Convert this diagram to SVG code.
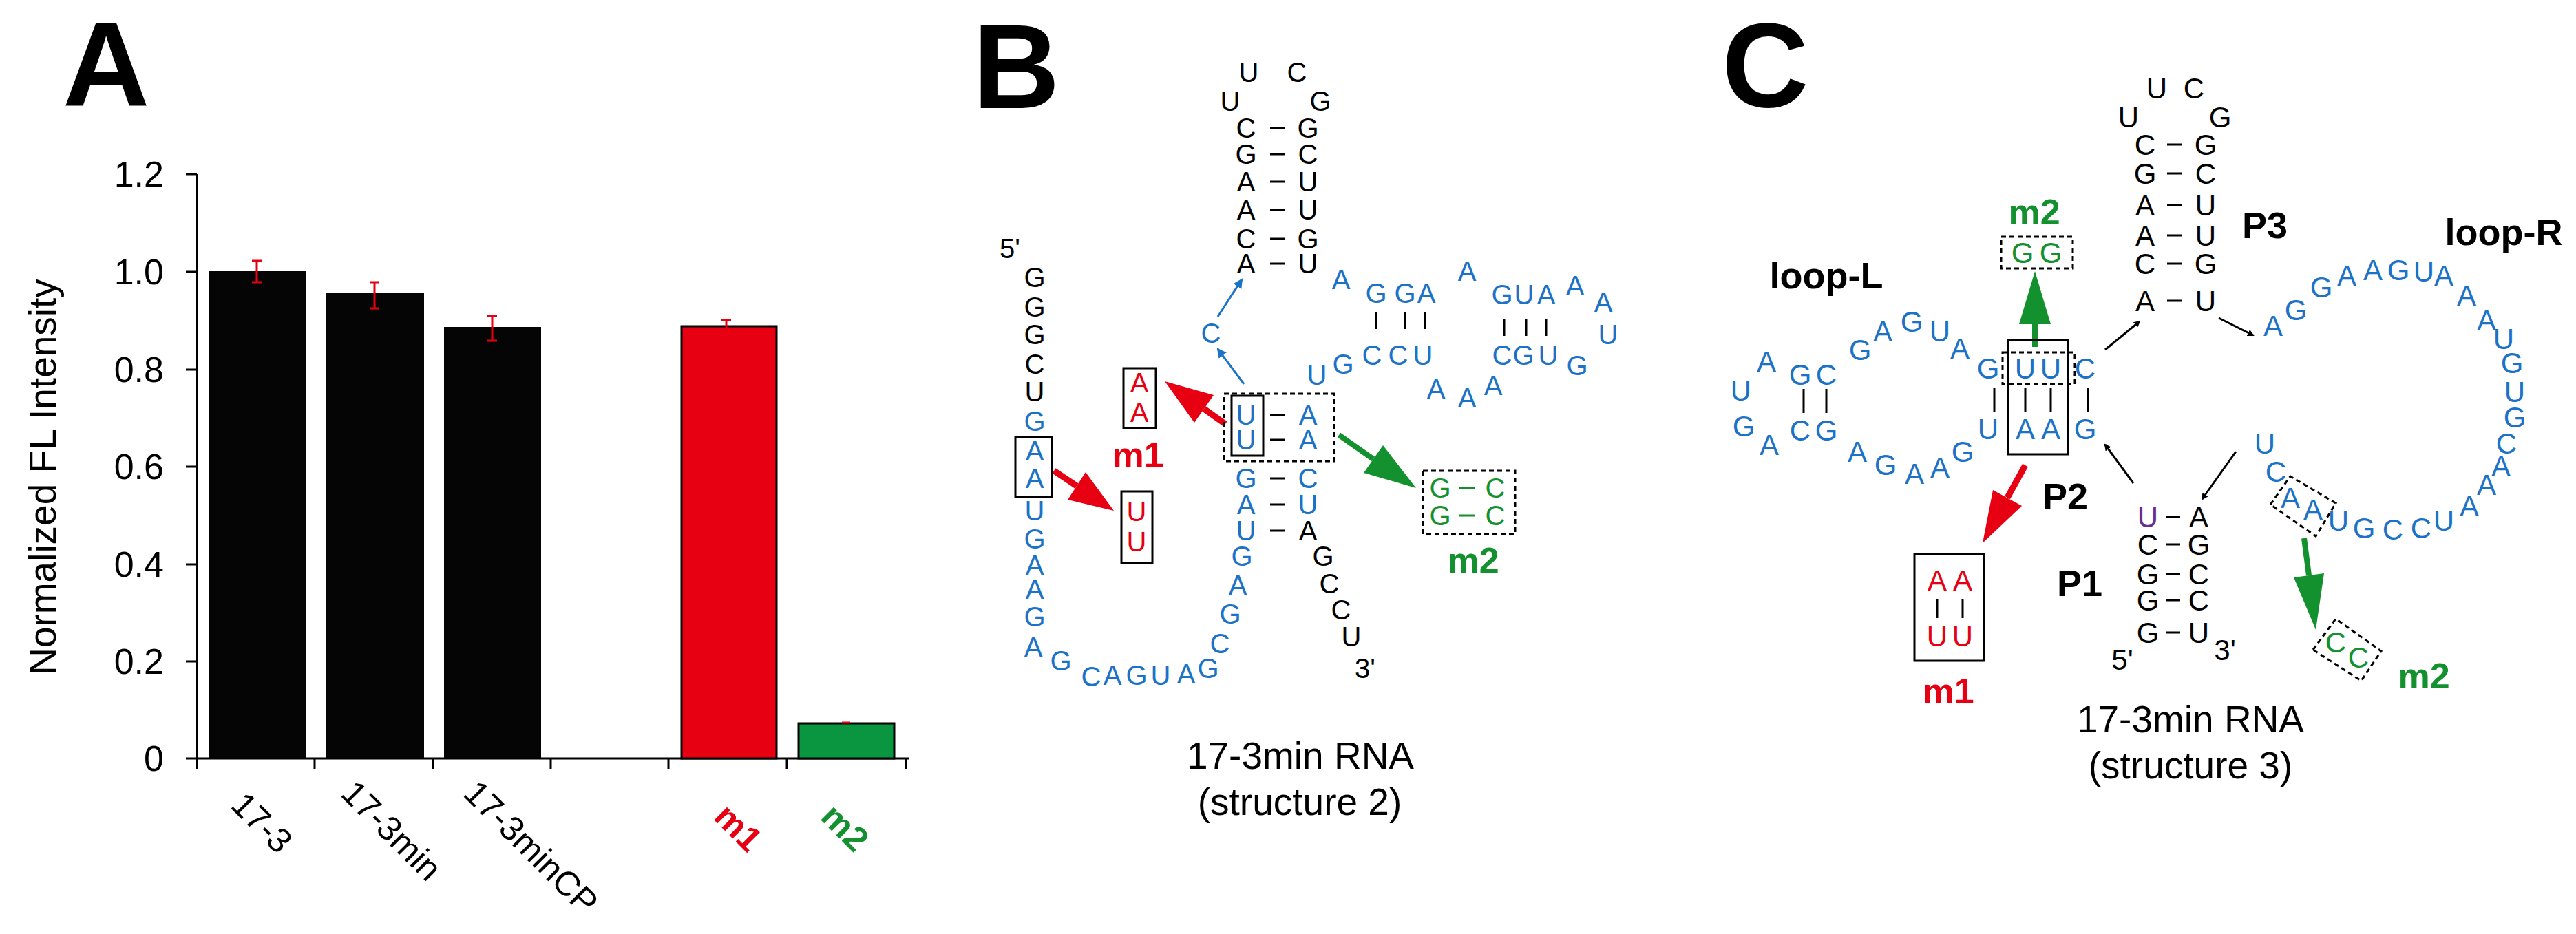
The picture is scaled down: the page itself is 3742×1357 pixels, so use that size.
<svg xmlns="http://www.w3.org/2000/svg" width="3742" height="1357" viewBox="0 0 3742 1357">
<style>
text{font-family:"Liberation Sans",Arial,sans-serif}
.t{text-anchor:middle;dominant-baseline:central}
.s40{font-size:40px}.s42{font-size:42px}.s52{font-size:52px}.s55{font-size:55px}
.bd{font-weight:bold}
.bl{fill:#1b72c6}.k{fill:#000}.rd{fill:#e60012}.gr{fill:#14912f}.pu{fill:#6a2c91}
.pl{font-size:175px;font-weight:bold}
.ln{stroke:#000;stroke-width:3;fill:none}
.box{stroke:#000;stroke-width:3;fill:none}
.dot{stroke:#000;stroke-width:3;fill:none;stroke-dasharray:7 5}
.ax{stroke:#000;stroke-width:3;fill:none}
.eb{stroke:#e60012;stroke-width:3;fill:none}
</style>
<defs>
<marker id="ak" markerWidth="10" markerHeight="10" refX="8" refY="5" orient="auto" markerUnits="userSpaceOnUse" viewBox="0 0 10 10"><path d="M0,0 L10,5 L0,10 z" fill="#000"/></marker>
<marker id="ab" markerWidth="14" markerHeight="14" refX="12" refY="7" orient="auto" markerUnits="userSpaceOnUse" viewBox="0 0 14 14"><path d="M0,0 L14,7 L0,14 z" fill="#1b72c6"/></marker>
</defs>

<g id="panel-labels">
<text class="pl" x="91" y="154">A</text>
<text class="pl" x="1413" y="157">B</text>
<text class="pl" x="2501" y="155">C</text>
</g>

<g id="chart">
<path class="ax" d="M286,253 V1102 H1320"/>
<path class="ax" d="M270,253 H286 M270,395 H286 M270,537 H286 M270,678 H286 M270,820 H286 M270,961 H286 M270,1102 H286"/>
<path class="ax" d="M286,1102 V1117 M457,1102 V1117 M629,1102 V1117 M800,1102 V1117 M971,1102 V1117 M1143,1102 V1117 M1316,1102 V1117"/>
<g class="s52" style="text-anchor:end;dominant-baseline:central">
<text x="238" y="253">1.2</text><text x="238" y="395">1.0</text><text x="238" y="537">0.8</text><text x="238" y="678">0.6</text><text x="238" y="820">0.4</text><text x="238" y="961">0.2</text><text x="238" y="1102">0</text>
</g>
<text class="t s55" transform="translate(62,693) rotate(-90)">Normalized FL Intensity</text>
<rect x="303" y="394" width="141" height="708" fill="#050505"/>
<rect x="473" y="426" width="143" height="676" fill="#050505"/>
<rect x="645" y="475" width="141" height="627" fill="#050505"/>
<rect x="990" y="474" width="138" height="628" fill="#e60012" stroke="#000" stroke-width="3"/>
<rect x="1160" y="1051" width="139" height="51" fill="#0a9640" stroke="#000" stroke-width="3"/>
<path class="eb" d="M373,379 V410 M366,379 H380 M366,410 H380 M544,410 V448 M537,410 H551 M537,448 H551 M715,459 V495 M708,459 H722 M708,495 H722 M1055,465 V476 M1048,465 H1062 M1223,1050 H1235"/>
<g style="font-size:50px">
<text transform="translate(333,1172) rotate(45)">17-3</text>
<text transform="translate(493,1155) rotate(45)">17-3min</text>
<text transform="translate(671,1155) rotate(45)">17-3minCP</text>
<text class="rd bd" transform="translate(1035,1189) rotate(45)">m1</text>
<text class="gr bd" transform="translate(1190,1189) rotate(45)">m2</text>
</g>
</g>

<g id="connectors">
<line x1="1807" y1="558" x2="1769" y2="507" stroke="#1b72c6" stroke-width="3" marker-end="url(#ab)"/>
<line x1="1769" y1="460" x2="1804" y2="406" stroke="#1b72c6" stroke-width="3" marker-end="url(#ab)"/>
<line x1="1780" y1="616" x2="1749" y2="594" stroke="#e60012" stroke-width="9"/>
<polygon points="1692,554 1763,574 1735,614" fill="#e60012"/>
<line x1="1531" y1="684" x2="1564" y2="706" stroke="#e60012" stroke-width="9"/>
<polygon points="1618,742 1551,726 1577,686" fill="#e60012"/>
<line x1="1945" y1="632" x2="1995" y2="667" stroke="#14912f" stroke-width="8"/>
<polygon points="2057,709 1981,687 2009,647" fill="#14912f"/>
<line x1="2956" y1="504" x2="2956" y2="471" stroke="#14912f" stroke-width="8"/>
<polygon points="2956,394 2933,471 2979,471" fill="#14912f"/>
<line x1="2942" y1="676" x2="2916" y2="723" stroke="#e60012" stroke-width="9"/>
<polygon points="2880,789 2895,712 2937,735" fill="#e60012"/>
<line x1="3347" y1="782" x2="3354" y2="836" stroke="#14912f" stroke-width="8"/>
<polygon points="3364,915 3332,839 3376,833" fill="#14912f"/>
<g stroke="#000" stroke-width="3" marker-end="url(#ak)">
<line x1="3058" y1="508" x2="3108" y2="467"/>
<line x1="3223" y1="462" x2="3273" y2="487"/>
<line x1="3248" y1="656" x2="3199" y2="725"/>
<line x1="3099" y1="702" x2="3058" y2="646"/>
</g>
</g>

<g id="structure-2">
<g class="t s40 k">
<text x="1814" y="105">U</text><text x="1884" y="105">C</text><text x="1787" y="147">U</text><text x="1918" y="147">G</text>
<text x="1810" y="186">C</text><text x="1900" y="186">G</text>
<text x="1810" y="224">G</text><text x="1900" y="224">C</text>
<text x="1810" y="264">A</text><text x="1900" y="264">U</text>
<text x="1810" y="305">A</text><text x="1900" y="305">U</text>
<text x="1810" y="347">C</text><text x="1900" y="347">G</text>
<text x="1810" y="383">A</text><text x="1900" y="383">U</text>
<text x="1467" y="361">5'</text>
<text x="1503" y="403">G</text><text x="1503" y="446">G</text><text x="1503" y="486">G</text><text x="1503" y="529">C</text><text x="1503" y="569">U</text>
<text x="1900" y="771">A</text>
<text x="1922" y="808">G</text><text x="1931" y="848">C</text><text x="1948" y="886">C</text><text x="1963" y="925">U</text>
<text x="1983" y="971">3'</text>
</g>
<path class="ln" d="M1845,186 H1867 M1845,224 H1867 M1845,264 H1867 M1845,305 H1867 M1845,347 H1867 M1845,383 H1867 M1845,603 H1867 M1845,639 H1867 M1845,695 H1867 M1845,733 H1867 M1845,771 H1867"/>
<g class="t s40 bl">
<text x="1503" y="612">G</text><text x="1503" y="655">A</text><text x="1503" y="695">A</text><text x="1503" y="742">U</text><text x="1503" y="783">G</text><text x="1503" y="821">A</text><text x="1503" y="856">A</text><text x="1503" y="896">G</text><text x="1501" y="940">A</text>
<text x="1541" y="960">G</text><text x="1585" y="983">C</text><text x="1616" y="981">A</text><text x="1651" y="981">G</text><text x="1686" y="981">U</text><text x="1723" y="979">A</text><text x="1755" y="971">G</text><text x="1772" y="935">C</text><text x="1787" y="892">G</text><text x="1798" y="850">A</text><text x="1804" y="808">G</text>
<text x="1810" y="771">U</text><text x="1810" y="733">A</text><text x="1900" y="733">U</text><text x="1810" y="695">G</text><text x="1900" y="695">C</text>
<text x="1810" y="639">U</text><text x="1900" y="639">A</text><text x="1810" y="603">U</text><text x="1900" y="603">A</text>
<text x="1759" y="484">C</text>
<text x="1913" y="545">U</text><text x="1951" y="529">G</text><text x="1993" y="516">C</text><text x="2031" y="516">C</text><text x="2067" y="516">U</text>
<text x="1999" y="426">G</text><text x="2041" y="426">G</text><text x="2072" y="426">A</text>
<text x="1948" y="406">A</text><text x="2131" y="394">A</text>
<text x="2182" y="428">G</text><text x="2214" y="428">U</text><text x="2246" y="428">A</text><text x="2288" y="415">A</text><text x="2329" y="439">A</text><text x="2336" y="486">U</text><text x="2291" y="531">G</text>
<text x="2182" y="516">C</text><text x="2213" y="516">G</text><text x="2249" y="516">U</text>
<text x="2086" y="565">A</text><text x="2131" y="578">A</text><text x="2169" y="560">A</text>
</g>
<path class="ln" d="M1999,454 V478 M2041,454 V478 M2070,454 V478 M2185,463 V488 M2217,463 V488 M2246,463 V488"/>
<rect class="dot" x="1778" y="572" width="160" height="98"/>
<rect class="box" x="1789" y="575" width="46" height="87"/>
<rect class="box" x="1475" y="635" width="53" height="87"/>
<g id="m1-b">
<rect class="box" x="1632" y="535" width="47" height="87"/>
<rect class="box" x="1629" y="714" width="45" height="104"/>
<g class="t s40 rd"><text x="1655" y="556">A</text><text x="1655" y="599">A</text><text x="1651" y="743">U</text><text x="1651" y="787">U</text></g>
<text class="t s52 bd rd" x="1653" y="661">m1</text>
</g>
<g id="m2-b">
<rect class="dot" x="2067" y="684" width="134" height="92"/>
<g class="t s40 gr"><text x="2092" y="709">G</text><text x="2172" y="709">C</text><text x="2092" y="749">G</text><text x="2172" y="749">C</text></g>
<path d="M2120,709 H2142 M2120,749 H2142" stroke="#14912f" stroke-width="3"/>
<text class="t s52 bd gr" x="2140" y="814">m2</text>
</g>
<text class="t s55" x="1889" y="1098">17-3min RNA</text>
<text class="t s55" x="1888" y="1165">(structure 2)</text>
</g>

<g id="structure-3">
<g class="t s42 k">
<text x="3133" y="128">U</text><text x="3187" y="128">C</text><text x="3092" y="170">U</text><text x="3225" y="170">G</text>
<text x="3116" y="210">C</text><text x="3204" y="210">G</text>
<text x="3116" y="252">G</text><text x="3204" y="252">C</text>
<text x="3116" y="298">A</text><text x="3204" y="298">U</text>
<text x="3116" y="342">A</text><text x="3204" y="342">U</text>
<text x="3116" y="383">C</text><text x="3204" y="383">G</text>
<text x="3116" y="437">A</text><text x="3204" y="437">U</text>
<text x="3194" y="751">A</text>
<text x="3120" y="791">C</text><text x="3194" y="791">G</text>
<text x="3120" y="834">G</text><text x="3194" y="834">C</text>
<text x="3120" y="872">G</text><text x="3194" y="872">C</text>
<text x="3120" y="919">G</text><text x="3194" y="919">U</text>
<text x="3083" y="958">5'</text><text x="3232" y="944">3'</text>
</g>
<text class="t s42 pu" x="3120" y="751">U</text>
<path class="ln" d="M3148,210 H3170 M3148,252 H3170 M3148,298 H3170 M3148,342 H3170 M3148,383 H3170 M3148,437 H3170 M3147,751 H3167 M3147,791 H3167 M3147,834 H3167 M3147,872 H3167 M3147,919 H3167"/>
<g class="t s52 bd k" style="font-size:54px">
<text x="3290" y="327">P3</text><text x="3637" y="337">loop-R</text><text x="2653" y="400">loop-L</text><text x="3000" y="721">P2</text><text x="3021" y="847">P1</text>
</g>
<g class="t s42 bl">
<text x="2888" y="535">G</text><text x="2942" y="535">U</text><text x="2979" y="535">U</text><text x="3029" y="535">C</text>
<text x="2888" y="623">U</text><text x="2942" y="623">A</text><text x="2979" y="623">A</text><text x="3029" y="623">G</text>
<text x="2566" y="525">A</text><text x="2529" y="567">U</text><text x="2533" y="619">G</text><text x="2570" y="646">A</text>
<text x="2615" y="544">G</text><text x="2653" y="544">C</text><text x="2615" y="625">C</text><text x="2653" y="625">G</text>
<text x="2702" y="508">G</text><text x="2735" y="481">A</text><text x="2777" y="467">G</text><text x="2818" y="481">U</text><text x="2847" y="506">A</text>
<text x="2698" y="656">A</text><text x="2739" y="675">G</text><text x="2781" y="688">A</text><text x="2818" y="679">A</text><text x="2851" y="656">G</text>
<text x="3302" y="473">A</text><text x="3335" y="450">G</text><text x="3372" y="417">G</text><text x="3409" y="400">A</text><text x="3447" y="392">A</text><text x="3484" y="392">G</text><text x="3521" y="394">U</text><text x="3550" y="400">A</text><text x="3583" y="429">A</text><text x="3612" y="465">A</text><text x="3637" y="492">U</text><text x="3649" y="527">G</text><text x="3653" y="569">U</text><text x="3653" y="606">G</text><text x="3641" y="644">C</text><text x="3633" y="677">A</text><text x="3612" y="704">A</text><text x="3587" y="735">A</text><text x="3550" y="756">U</text><text x="3517" y="767">C</text><text x="3476" y="769">C</text><text x="3434" y="767">G</text><text x="3397" y="756">U</text><text x="3360" y="740">A</text><text x="3327" y="723">A</text><text x="3306" y="685">C</text><text x="3290" y="644">U</text>
</g>
<path class="ln" d="M2897,563 V598 M2942,563 V598 M2979,563 V598 M3033,563 V598 M2620,565 V600 M2653,565 V600"/>
<rect class="box" x="2917" y="494" width="87" height="166"/>
<rect class="dot" x="2909" y="512" width="105" height="46"/>
<polygon class="dot" points="3298,733 3327,692 3393,731 3364,779"/>
<g id="m2-c-top">
<rect class="dot" x="2907" y="344" width="104" height="46"/>
<g class="t s42 gr"><text x="2938" y="367">G</text><text x="2979" y="367">G</text></g>
<text class="t s52 bd gr" x="2955" y="308">m2</text>
</g>
<g id="m1-c">
<rect class="box" x="2781" y="805" width="101" height="155"/>
<g class="t s42 rd"><text x="2814" y="843">A</text><text x="2851" y="843">A</text><text x="2814" y="924">U</text><text x="2851" y="924">U</text></g>
<path class="ln" d="M2814,870 V898 M2851,870 V898"/>
<text class="t s52 bd rd" x="2830" y="1004">m1</text>
</g>
<g id="m2-c-right">
<polygon class="dot" points="3360,944 3393,899 3459,946 3430,989"/>
<g class="t s42 gr"><text x="3393" y="933">C</text><text x="3426" y="955">C</text></g>
<text class="t s52 bd gr" x="3521" y="982">m2</text>
</g>
<text class="t s55" x="3182" y="1045">17-3min RNA</text>
<text class="t s55" x="3182" y="1112">(structure 3)</text>
</g>
</svg>
